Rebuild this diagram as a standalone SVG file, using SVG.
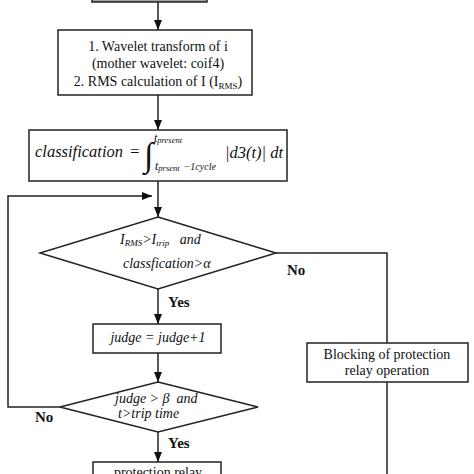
<svg xmlns="http://www.w3.org/2000/svg" width="474" height="474" viewBox="0 0 474 474">
<style>
.box{fill:#fff;stroke:#222;stroke-width:1.5}
.conn{fill:none;stroke:#222;stroke-width:1.5}
.t{font-family:"Liberation Serif","Times New Roman",serif;font-size:14px;fill:#111}
.i{font-style:italic}
.b{font-weight:bold;font-size:15px}
.m{font-family:"Liberation Serif","Times New Roman",serif;font-style:italic;fill:#111}
</style>
<defs>
<marker id="ah" markerUnits="userSpaceOnUse" markerWidth="10" markerHeight="8" refX="10" refY="4" orient="auto">
<path d="M0,0 L10,4 L0,8 z" fill="#111"/>
</marker>
</defs>
<rect width="474" height="474" fill="#fff"/>
<g id="connectors">
<line class="conn" x1="158" y1="2" x2="158" y2="30" marker-end="url(#ah)"/>
<line class="conn" x1="158" y1="95" x2="158" y2="130" marker-end="url(#ah)"/>
<line class="conn" x1="158" y1="181" x2="158" y2="217" marker-end="url(#ah)"/>
<polyline class="conn" points="60,407 8,407 8,196 152,196" marker-end="url(#ah)"/>
<line class="conn" x1="158" y1="289" x2="158" y2="324" marker-end="url(#ah)"/>
<line class="conn" x1="158" y1="353" x2="158" y2="382" marker-end="url(#ah)"/>
<polyline class="conn" points="276,253 387,253 387,343"/>
<line class="conn" x1="387" y1="382" x2="387" y2="476"/>
<line class="conn" x1="158" y1="432" x2="158" y2="462" marker-end="url(#ah)"/>
<text class="t b" x="287" y="275">No</text>
<text class="t b" x="168" y="307">Yes</text>
<text class="t b" x="35" y="422">No</text>
<text class="t b" x="168" y="448">Yes</text>
</g>
<g id="start">
<rect x="92" y="-30" width="115" height="32" fill="#a3a3a3" stroke="#222" stroke-width="1.5"/>
</g>
<g id="wavelet">
<rect class="box" x="58" y="30" width="194" height="65"/>
<text class="t" x="158" y="51" text-anchor="middle">1. Wavelet transform of i</text>
<text class="t" x="158" y="68" text-anchor="middle">(mother wavelet: coif4)</text>
<text class="t" x="158" y="86" text-anchor="middle">2. RMS calculation of I (I<tspan font-size="9" dy="3">RMS</tspan><tspan dy="-3">)</tspan></text>
</g>
<g id="classification">
<rect class="box" x="29" y="130" width="258" height="51"/>
<text class="m" x="35" y="157" font-size="16.5">classification</text>
<text class="m" x="129" y="157" font-size="16.5" font-style="normal">=</text>
<text class="m" x="144" y="166" font-size="34" font-style="normal">∫</text>
<text class="m" x="154" y="142" font-size="12">t<tspan font-size="8.5" dy="1">present</tspan></text>
<text class="m" x="155" y="170" font-size="12">t<tspan font-size="8.5" dy="1">prsent</tspan><tspan font-size="10" dx="4" dy="-1">−1cycle</tspan></text>
<text class="m" x="225" y="158" font-size="16.5">|d3(t)| dt</text>
</g>
<g id="decision1">
<polygon class="box" points="158,217 276,253 158,289 40,253"/>
<text class="t i" x="120" y="244">I<tspan font-size="9" dy="2">RMS</tspan><tspan dy="-2">&gt;I</tspan><tspan font-size="9" dy="2">trip</tspan><tspan dy="-2" xml:space="preserve">   and</tspan></text>
<text class="t i" x="123" y="268">classfication&gt;α</text>
</g>
<g id="judge">
<rect class="box" x="93" y="324" width="128" height="29"/>
<text class="t i" x="158" y="342" text-anchor="middle">judge = judge+1</text>
</g>
<g id="decision2">
<polygon class="box" points="158,382 258,407 158,432 60,407"/>
<text class="t i" x="115" y="403" xml:space="preserve">judge &gt; β  and</text>
<text class="t i" x="118" y="418">t&gt;trip time</text>
</g>
<g id="blocking">
<rect class="box" x="307" y="343" width="161" height="39"/>
<text class="t" x="387" y="359" text-anchor="middle">Blocking of protection</text>
<text class="t" x="387" y="375" text-anchor="middle">relay operation</text>
</g>
<g id="relay">
<rect class="box" x="93" y="462" width="128" height="30"/>
<text class="t" x="158" y="477" text-anchor="middle">protection relay</text>
</g>
</svg>
